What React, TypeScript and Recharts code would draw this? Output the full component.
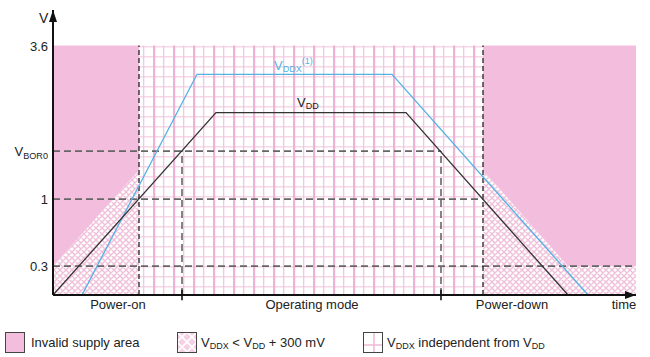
import { ComposedChart, Line, Area, XAxis, YAxis, ReferenceArea, ReferenceLine, ReferenceDot } from 'recharts'

// time axis, arbitrary units from the origin
const timeMax = 583
const phaseLabels = ['Power-on', 'Operating mode', 'Power-down', 'time']
const phaseLabelAt = [65, 259, 459, 571]
const phaseTickAt = [129, 388]

// vertical axis is schematic (to scale below 1 V, compressed above)
const levelTop = 2.97
const levelTicks = [0.3, 1, 1.5, 2.6]
const levelLabels = ['0.3', '1', 'VBOR0', '3.6']
const supplyMax = 2.6

const vddTime = [0, 163, 353, 515]
const vddLevel = [0, 1.9, 1.9, 0]
const vddxTime = [29, 144, 339, 535]
const vddxLevel = [0, 2.3, 2.3, 0]

const powerOnEnd = 86
const powerDownStart = 430

// VDD + 300 mV boundary between the invalid area and the hatched area
const leftEdgeTime = [0, 86]
const leftEdgeLevel = [0.3, 1.3]
const rightEdgeTime = [430, 515, 583]
const rightEdgeLevel = [1.3, 0.3, 0.3]

const guideLevels = [0.3, 1, 1.5]
const guideEnds = [583, 430, 388]

const pink = '#f3bedd'
const blue = '#52b2e3'
const font = '"Liberation Sans", Arial, sans-serif'

const vdd = vddTime.map((t, i) => ({ t, v: vddLevel[i] }))
const vddx = vddxTime.map((t, i) => ({ t, v: vddxLevel[i] }))
const invalidLeft = leftEdgeTime.map((t, i) => ({ t, band: [leftEdgeLevel[i], supplyMax] }))
const hatchLeft = leftEdgeTime.map((t, i) => ({ t, band: [0, leftEdgeLevel[i]] }))
const invalidRight = rightEdgeTime.map((t, i) => ({ t, band: [rightEdgeLevel[i], supplyMax] }))
const hatchRight = rightEdgeTime.map((t, i) => ({ t, band: [0, rightEdgeLevel[i]] }))

function Sub({ main, sub, size = 13 }: { main: string; sub: string; size?: number }) {
	return (
		<>
			{main}
			<tspan fontSize={size * 0.7} dy={3}>{sub}</tspan>
			<tspan dy={-3}>{''}</tspan>
		</>
	)
}

function LevelTick(props: any) {
	const { x, y, payload } = props
	const label = levelLabels[levelTicks.indexOf(payload.value)]
	return (
		<text x={x} y={y} dy={5} textAnchor="end" fontSize={13} fontFamily={font} fill="#222">
			{label.startsWith('V') ? <Sub main="V" sub={label.slice(1)} /> : label}
		</text>
	)
}

function PhaseTick(props: any) {
	const { x, y, payload } = props
	const label = phaseLabels[phaseLabelAt.indexOf(payload.value)]
	return (
		<text x={x} y={y} dy={14} textAnchor="middle" fontSize={13} fontFamily={font} fill="#222">
			{label}
		</text>
	)
}

const upArrow = (p: any) => (
	<g>
		<path d={`M${p.cx},${p.cy} L${p.cx - 4},${p.cy + 12} L${p.cx + 4},${p.cy + 12} Z`} fill="#111" />
		<text x={p.cx - 14} y={p.cy + 13} fontSize={14} fontFamily={font} fill="#222">V</text>
	</g>
)

const rightArrow = (p: any) => (
	<path d={`M${p.cx},${p.cy} L${p.cx - 11},${p.cy - 4} L${p.cx - 11},${p.cy + 4} Z`} fill="#111" />
)

const vddxLabel = (p: any) => (
	<text x={p.cx} y={p.cy - 4} fontSize={13} fontFamily={font} fill={blue}>
		V<tspan fontSize={9} dy={2}>DDX</tspan>
		<tspan fontSize={9} dy={-8}>(1)</tspan>
	</text>
)

const vddLabel = (p: any) => (
	<text x={p.cx} y={p.cy - 6} fontSize={13} fontFamily={font} fill="#222">
		V<tspan fontSize={9} dy={2}>DD</tspan>
	</text>
)

function Patterns({ prefix = '' }: { prefix?: string }) {
	return (
		<defs>
			<pattern id={`${prefix}hatch`} patternUnits="userSpaceOnUse" width={6} height={6}>
				<rect width={6} height={6} fill="#fff" />
				<path
					d="M0,0 L6,6 M6,0 L0,6 M-1,1 L1,-1 M5,7 L7,5 M-1,5 L1,7 M5,-1 L7,1"
					stroke="#f0c0da"
					strokeWidth={1.4}
				/>
			</pattern>
			<pattern id={`${prefix}grid`} patternUnits="userSpaceOnUse" x={3} y={6} width={20} height={10}>
				<rect width={20} height={10} fill="#fff" />
				<rect x={0} y={0} width={20} height={1.5} fill="#f7d6e8" />
				<rect x={0} y={0} width={1.3} height={10} fill="#f4c6df" />
				<rect x={10} y={0} width={2.2} height={10} fill="#efb2d3" />
			</pattern>
		</defs>
	)
}

function LegendBar() {
	return (
		<svg width={650} height={37} style={{ position: 'absolute', left: 0, top: 320 }}>
			<defs>
				<pattern id="lghatch" patternUnits="userSpaceOnUse" width={10} height={10} x={177} y={12}>
					<rect width={10} height={10} fill="#f6d0e4" />
					<path d="M0,0 L10,10 M10,0 L0,10" stroke="#fff" strokeWidth={1.6} />
				</pattern>
			</defs>
			<rect x={5.5} y={12.5} width={19} height={20} fill={pink} stroke="#444" />
			<text x={31} y={27} fontSize={13} fontFamily={font} fill="#222">Invalid supply area</text>

			<rect x={177.5} y={12.5} width={19} height={20} fill="url(#lghatch)" stroke="#444" />
			<text x={201} y={27} fontSize={13} fontFamily={font} fill="#222">
				V<tspan fontSize={9} dy={2}>DDX</tspan>
				<tspan dy={-2}> &lt; V</tspan>
				<tspan fontSize={9} dy={2}>DD</tspan>
				<tspan dy={-2}> + 300 mV</tspan>
			</text>

			<rect x={363.5} y={12.5} width={19} height={20} fill="#fff" stroke="#444" />
			<line x1={374} y1={13} x2={374} y2={32} stroke="#f0b8d6" strokeWidth={1.5} />
			<line x1={364} y1={25} x2={382} y2={25} stroke="#f0b8d6" strokeWidth={1.5} />
			<text x={387} y={27} fontSize={13} fontFamily={font} fill="#222">
				V<tspan fontSize={9} dy={2}>DDX</tspan>
				<tspan dy={-2}> independent from V</tspan>
				<tspan fontSize={9} dy={2}>DD</tspan>
			</text>
		</svg>
	)
}

export default function App() {
	return (
		<div style={{ position: 'absolute', left: 0, top: 0, width: 650, height: 357, background: '#fff' }}>
			<ComposedChart width={650} height={357} margin={{ top: 10, right: 14, left: 0, bottom: 0 }}>
				<Patterns />
				<XAxis
					dataKey="t"
					type="number"
					domain={[0, timeMax]}
					ticks={phaseLabelAt}
					allowDataOverflow
					height={62}
					tickLine={false}
					tickSize={0}
					tickMargin={0}
					tick={<PhaseTick />}
					axisLine={{ stroke: '#111', strokeWidth: 2 }}
				/>
				<YAxis
					type="number"
					domain={[0, levelTop]}
					ticks={levelTicks}
					allowDataOverflow
					width={53}
					tickLine={false}
					tickSize={0}
					tickMargin={5}
					tick={<LevelTick />}
					axisLine={{ stroke: '#111', strokeWidth: 2 }}
				/>
				<ReferenceArea
					x1={powerOnEnd}
					x2={powerDownStart}
					y1={0}
					y2={supplyMax}
					fill="url(#grid)"
					fillOpacity={1}
					stroke="none"
				/>
				<Area data={hatchLeft} dataKey="band" type="linear" stroke="none" fill="url(#hatch)" fillOpacity={1} isAnimationActive={false} dot={false} activeDot={false} />
				<Area data={invalidLeft} dataKey="band" type="linear" stroke="none" fill={pink} fillOpacity={1} isAnimationActive={false} dot={false} activeDot={false} />
				<Area data={hatchRight} dataKey="band" type="linear" stroke="none" fill="url(#hatch)" fillOpacity={1} isAnimationActive={false} dot={false} activeDot={false} />
				<Area data={invalidRight} dataKey="band" type="linear" stroke="none" fill={pink} fillOpacity={1} isAnimationActive={false} dot={false} activeDot={false} />

				{guideLevels.map((y, i) => (
					<ReferenceLine
						key={`h${i}`}
						segment={[{ x: 0, y }, { x: guideEnds[i], y }]}
						stroke="#666"
						strokeWidth={1.8}
						strokeDasharray="7 4"
					/>
				))}
				{phaseTickAt.map((x) => (
					<ReferenceLine
						key={`b${x}`}
						segment={[{ x, y: 0 }, { x, y: 1.5 }]}
						stroke="#666"
						strokeWidth={1.6}
						strokeDasharray="7 4"
					/>
				))}
				{[powerOnEnd, powerDownStart].map((x) => (
					<ReferenceLine
						key={`p${x}`}
						segment={[{ x, y: 0 }, { x, y: supplyMax }]}
						stroke="#111"
						strokeWidth={1.2}
						strokeDasharray="5 3"
					/>
				))}

				<Line data={vddx} dataKey="v" type="linear" stroke={blue} strokeWidth={1.3} dot={false} activeDot={false} isAnimationActive={false} />
				<Line data={vdd} dataKey="v" type="linear" stroke="#333" strokeWidth={1.3} dot={false} activeDot={false} isAnimationActive={false} />

				{phaseTickAt.map((x) => (
					<ReferenceLine
						key={`t${x}`}
						segment={[{ x, y: -0.055 }, { x, y: 0.055 }]}
						stroke="#111"
						strokeWidth={1.6}
						ifOverflow="visible"
					/>
				))}
				<ReferenceDot x={221} y={2.3} r={0} shape={vddxLabel} ifOverflow="visible" />
				<ReferenceDot x={244} y={1.9} r={0} shape={vddLabel} ifOverflow="visible" />
				<ReferenceDot x={0} y={levelTop} r={0} shape={upArrow} ifOverflow="visible" />
				<ReferenceDot x={timeMax} y={0} r={0} shape={rightArrow} ifOverflow="visible" />
			</ComposedChart>
			<LegendBar />
		</div>
	)
}
